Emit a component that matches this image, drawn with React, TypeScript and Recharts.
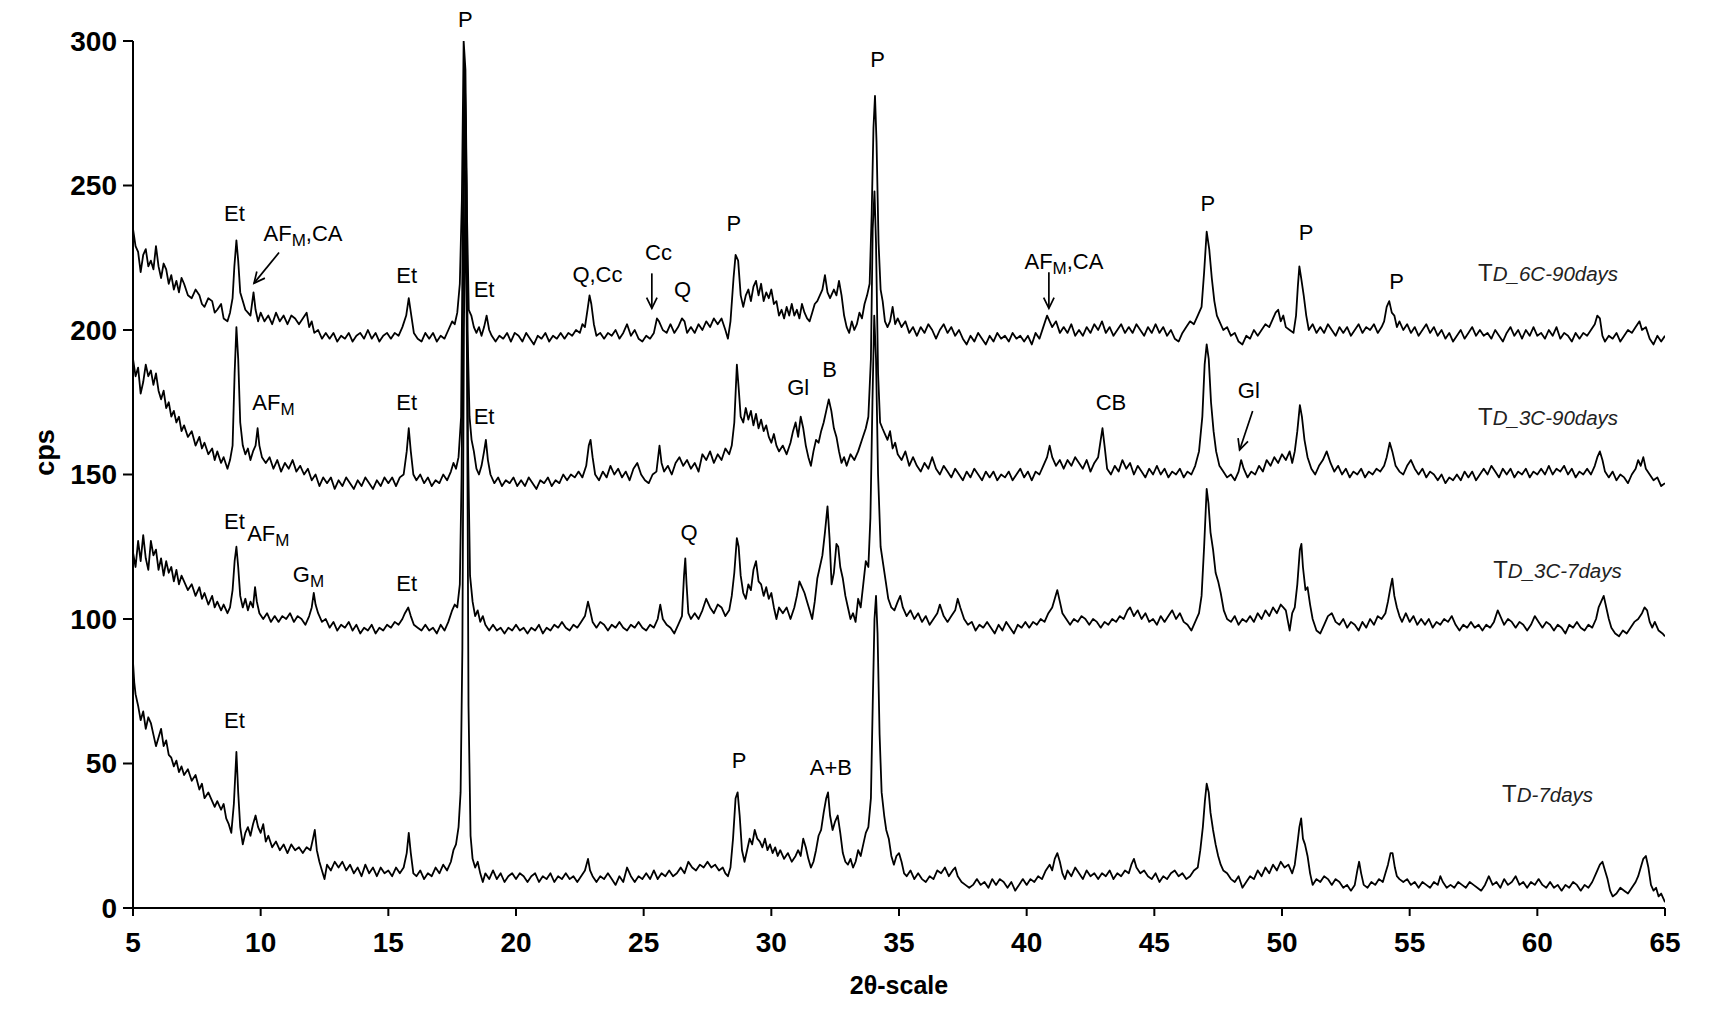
import React from 'react';
import { LineChart, Line, XAxis, YAxis, ReferenceDot, ReferenceLine } from 'recharts';

// 2θ, cps pairs (top to bottom)
const td6c90: [number, number][] = [
  [5,235],[5.1,229],[5.2,227],[5.3,220],[5.4,226],[5.5,228],[5.6,222],[5.7,224],[5.8,221],[5.9,229],[6.0,222],[6.1,218],[6.2,223],[6.3,221],[6.4,216],[6.5,219],[6.6,214],[6.7,217],[6.8,213],[6.9,218],[7.0,216],[7.15,212],[7.3,211],[7.45,214],[7.6,212],[7.7,209],[7.8,208],[7.95,211],[8.1,210],[8.2,206],[8.3,207],[8.45,209],[8.55,204],[8.7,203],[8.8,206],[8.9,211],[8.97,222],[9.05,231],[9.12,224],[9.2,213],[9.3,210],[9.4,207],[9.5,206],[9.6,205],[9.72,213],[9.8,207],[9.9,203],[10.0,206],[10.15,203],[10.3,205],[10.45,202],[10.6,206],[10.75,203],[10.9,205],[11.05,202],[11.2,205],[11.35,204],[11.5,202],[11.65,204],[11.8,206],[11.9,201],[12.0,203],[12.1,199],[12.25,200],[12.4,197],[12.55,199],[12.7,197],[12.85,199],[13.0,196],[13.15,198],[13.3,197],[13.45,199],[13.6,196],[13.75,198],[13.9,199],[14.05,197],[14.2,200],[14.35,197],[14.5,199],[14.65,196],[14.8,198],[14.95,199],[15.1,197],[15.25,199],[15.4,198],[15.55,201],[15.7,205],[15.8,211],[15.9,205],[16.0,199],[16.15,197],[16.3,196],[16.45,199],[16.6,197],[16.75,199],[16.9,196],[17.05,198],[17.2,197],[17.35,200],[17.5,203],[17.6,202],[17.7,206],[17.8,216],[17.88,245],[17.95,300],[18.02,290],[18.08,240],[18.15,207],[18.25,205],[18.35,201],[18.45,199],[18.55,201],[18.65,198],[18.75,201],[18.85,205],[18.95,200],[19.05,198],[19.2,196],[19.35,198],[19.5,197],[19.65,199],[19.8,196],[19.95,199],[20.1,198],[20.25,196],[20.4,199],[20.55,197],[20.7,195],[20.85,198],[21.0,197],[21.15,199],[21.3,196],[21.45,198],[21.6,197],[21.75,199],[21.9,197],[22.05,199],[22.2,198],[22.35,200],[22.5,199],[22.6,202],[22.7,201],[22.8,207],[22.88,212],[22.95,209],[23.05,202],[23.15,198],[23.3,199],[23.45,197],[23.6,199],[23.75,198],[23.9,200],[24.05,197],[24.2,199],[24.35,202],[24.5,198],[24.65,200],[24.8,197],[24.95,196],[25.1,198],[25.25,197],[25.4,199],[25.52,204],[25.6,203],[25.75,200],[25.9,199],[26.05,202],[26.2,199],[26.35,201],[26.5,204],[26.6,203],[26.7,199],[26.85,201],[27.0,199],[27.15,202],[27.3,200],[27.45,203],[27.6,201],[27.75,204],[27.9,202],[28.05,204],[28.2,200],[28.3,197],[28.4,203],[28.52,218],[28.6,226],[28.7,224],[28.8,212],[28.9,208],[29.0,212],[29.1,214],[29.2,210],[29.3,215],[29.4,217],[29.5,212],[29.6,216],[29.7,210],[29.8,213],[29.9,211],[30.0,214],[30.1,209],[30.2,210],[30.3,205],[30.4,207],[30.5,204],[30.6,208],[30.7,205],[30.8,209],[30.9,205],[31.0,207],[31.1,204],[31.2,209],[31.3,206],[31.4,204],[31.5,203],[31.6,206],[31.7,209],[31.8,210],[31.9,212],[32.0,214],[32.1,219],[32.2,213],[32.3,211],[32.45,214],[32.55,212],[32.65,217],[32.75,212],[32.85,205],[32.95,201],[33.05,199],[33.15,203],[33.25,200],[33.35,202],[33.45,206],[33.55,204],[33.65,209],[33.75,212],[33.85,216],[33.93,240],[34.0,270],[34.06,281],[34.12,265],[34.2,230],[34.28,214],[34.36,210],[34.45,203],[34.55,201],[34.65,203],[34.75,208],[34.85,202],[34.95,204],[35.1,201],[35.25,203],[35.4,199],[35.55,201],[35.7,198],[35.85,201],[36.0,199],[36.15,202],[36.3,200],[36.45,197],[36.6,200],[36.75,202],[36.9,199],[37.05,201],[37.2,198],[37.35,200],[37.5,197],[37.65,195],[37.8,198],[37.95,196],[38.1,199],[38.25,197],[38.4,195],[38.55,198],[38.7,196],[38.85,199],[39.0,197],[39.15,198],[39.3,196],[39.45,199],[39.6,197],[39.75,198],[39.9,196],[40.05,198],[40.2,195],[40.35,199],[40.5,197],[40.65,201],[40.8,205],[40.9,203],[41.0,201],[41.15,203],[41.3,199],[41.45,201],[41.6,199],[41.75,202],[41.9,198],[42.05,200],[42.2,198],[42.35,201],[42.5,199],[42.65,202],[42.8,200],[42.95,203],[43.1,199],[43.25,201],[43.4,198],[43.55,200],[43.7,202],[43.85,199],[44.0,201],[44.15,199],[44.3,202],[44.45,200],[44.6,198],[44.75,201],[44.9,199],[45.05,202],[45.2,199],[45.35,201],[45.5,198],[45.65,200],[45.8,197],[45.95,196],[46.1,199],[46.25,201],[46.4,203],[46.55,202],[46.7,205],[46.85,208],[46.95,220],[47.05,234],[47.15,228],[47.25,218],[47.35,210],[47.45,205],[47.55,203],[47.7,200],[47.85,201],[48.0,198],[48.15,199],[48.3,196],[48.45,195],[48.6,198],[48.75,197],[48.9,200],[49.05,198],[49.2,200],[49.35,202],[49.5,201],[49.65,204],[49.75,206],[49.85,207],[49.95,203],[50.05,205],[50.15,201],[50.3,200],[50.45,199],[50.55,205],[50.62,215],[50.68,222],[50.75,218],[50.85,212],[50.95,205],[51.05,200],[51.2,202],[51.35,199],[51.5,201],[51.65,199],[51.8,202],[51.95,200],[52.1,198],[52.25,201],[52.4,199],[52.55,201],[52.7,198],[52.85,200],[53.0,202],[53.15,199],[53.3,201],[53.45,200],[53.6,202],[53.75,199],[53.9,201],[54.0,203],[54.1,208],[54.2,210],[54.3,206],[54.4,205],[54.5,201],[54.6,203],[54.75,200],[54.9,202],[55.05,199],[55.2,201],[55.35,198],[55.5,200],[55.65,202],[55.8,199],[55.95,201],[56.1,198],[56.25,200],[56.4,197],[56.55,199],[56.7,196],[56.85,198],[57.0,200],[57.15,197],[57.3,199],[57.45,201],[57.6,198],[57.75,200],[57.9,198],[58.05,199],[58.2,197],[58.35,200],[58.5,198],[58.65,196],[58.8,199],[58.95,201],[59.1,198],[59.25,200],[59.4,197],[59.55,200],[59.7,198],[59.85,201],[60.0,198],[60.15,199],[60.3,197],[60.45,200],[60.6,198],[60.75,201],[60.9,197],[61.05,199],[61.2,198],[61.35,196],[61.5,199],[61.65,197],[61.8,199],[61.95,198],[62.1,200],[62.25,202],[62.35,205],[62.45,204],[62.55,198],[62.65,196],[62.8,198],[62.95,197],[63.1,199],[63.25,196],[63.4,198],[63.55,200],[63.7,199],[63.85,201],[64.0,203],[64.1,200],[64.25,201],[64.4,197],[64.55,195],[64.7,198],[64.85,196],[65.0,198],
];

const td3c90: [number, number][] = [
  [5,190],[5.1,184],[5.2,187],[5.3,178],[5.4,182],[5.5,188],[5.6,184],[5.7,186],[5.8,181],[5.9,185],[6.0,179],[6.1,176],[6.2,179],[6.3,173],[6.4,175],[6.5,170],[6.6,172],[6.7,168],[6.8,170],[6.9,165],[7.0,167],[7.15,163],[7.3,165],[7.45,160],[7.6,163],[7.7,159],[7.8,161],[7.95,157],[8.1,159],[8.2,155],[8.3,158],[8.45,154],[8.55,156],[8.7,152],[8.8,155],[8.9,160],[8.98,185],[9.05,201],[9.12,190],[9.2,168],[9.3,160],[9.4,157],[9.5,159],[9.6,155],[9.7,158],[9.8,160],[9.88,166],[9.95,160],[10.05,156],[10.2,154],[10.35,156],[10.5,152],[10.65,155],[10.8,151],[10.95,154],[11.1,152],[11.25,155],[11.4,151],[11.55,153],[11.7,150],[11.85,152],[12.0,148],[12.15,150],[12.3,146],[12.45,149],[12.6,147],[12.75,149],[12.9,145],[13.05,148],[13.2,146],[13.35,149],[13.5,147],[13.65,145],[13.8,148],[13.95,146],[14.1,149],[14.25,147],[14.4,145],[14.55,148],[14.7,146],[14.85,149],[15.0,147],[15.15,149],[15.3,146],[15.45,149],[15.6,150],[15.72,158],[15.8,166],[15.88,158],[15.98,150],[16.1,148],[16.25,150],[16.4,147],[16.55,149],[16.7,146],[16.85,148],[17.0,147],[17.15,150],[17.3,148],[17.45,151],[17.55,154],[17.65,152],[17.75,156],[17.85,170],[17.92,240],[17.98,292],[18.04,270],[18.1,200],[18.18,170],[18.26,162],[18.35,158],[18.45,152],[18.55,150],[18.65,153],[18.75,158],[18.82,162],[18.9,155],[19.0,150],[19.15,147],[19.3,149],[19.45,146],[19.6,148],[19.75,147],[19.9,149],[20.05,146],[20.2,148],[20.35,146],[20.5,149],[20.65,147],[20.8,145],[20.95,148],[21.1,147],[21.25,149],[21.4,146],[21.55,148],[21.7,147],[21.85,150],[22.0,148],[22.15,150],[22.3,149],[22.45,151],[22.6,149],[22.75,153],[22.85,160],[22.92,162],[23.0,156],[23.1,150],[23.25,148],[23.4,151],[23.55,149],[23.7,153],[23.85,150],[24.0,152],[24.15,149],[24.3,151],[24.45,148],[24.6,152],[24.75,154],[24.9,150],[25.05,148],[25.2,147],[25.35,150],[25.5,151],[25.62,160],[25.7,154],[25.8,151],[25.95,153],[26.1,150],[26.25,154],[26.4,156],[26.55,153],[26.7,155],[26.85,152],[27.0,154],[27.15,151],[27.3,157],[27.45,155],[27.6,158],[27.75,154],[27.9,157],[28.05,155],[28.2,159],[28.35,157],[28.45,160],[28.55,168],[28.65,188],[28.72,180],[28.8,170],[28.9,168],[29.0,173],[29.1,169],[29.2,172],[29.3,167],[29.4,171],[29.5,166],[29.6,169],[29.7,165],[29.8,167],[29.9,163],[30.0,161],[30.1,164],[30.2,160],[30.3,158],[30.45,160],[30.6,157],[30.75,161],[30.85,165],[30.95,168],[31.05,163],[31.15,170],[31.25,166],[31.35,160],[31.45,156],[31.55,153],[31.65,158],[31.75,162],[31.85,161],[31.95,165],[32.05,168],[32.15,172],[32.25,176],[32.35,172],[32.45,166],[32.55,163],[32.65,158],[32.75,154],[32.85,156],[32.95,153],[33.1,157],[33.25,155],[33.4,158],[33.55,162],[33.7,166],[33.8,170],[33.9,190],[33.97,235],[34.04,248],[34.1,230],[34.18,185],[34.26,168],[34.35,166],[34.45,164],[34.55,162],[34.65,165],[34.75,159],[34.85,161],[34.95,157],[35.1,155],[35.25,158],[35.4,153],[35.55,156],[35.7,153],[35.85,151],[36.0,154],[36.15,152],[36.3,156],[36.45,152],[36.6,150],[36.75,153],[36.9,151],[37.05,149],[37.2,152],[37.35,150],[37.5,148],[37.65,151],[37.8,149],[37.95,152],[38.1,150],[38.25,148],[38.4,151],[38.55,149],[38.7,151],[38.85,148],[39.0,150],[39.15,149],[39.3,151],[39.45,148],[39.6,150],[39.75,152],[39.9,149],[40.05,151],[40.2,148],[40.35,151],[40.5,150],[40.65,153],[40.8,156],[40.9,160],[41.0,156],[41.15,153],[41.3,155],[41.45,152],[41.6,155],[41.75,153],[41.9,156],[42.05,154],[42.2,152],[42.35,155],[42.5,151],[42.65,154],[42.8,156],[42.9,162],[42.97,166],[43.05,160],[43.15,152],[43.3,150],[43.45,153],[43.6,151],[43.75,155],[43.9,152],[44.05,154],[44.2,150],[44.35,153],[44.5,151],[44.65,149],[44.8,152],[44.95,150],[45.1,153],[45.25,150],[45.4,152],[45.55,149],[45.7,151],[45.85,150],[46.0,152],[46.15,149],[46.3,151],[46.45,150],[46.6,153],[46.75,158],[46.88,170],[46.97,188],[47.05,195],[47.13,190],[47.22,175],[47.32,165],[47.42,158],[47.55,153],[47.7,151],[47.85,149],[48.0,150],[48.15,148],[48.3,151],[48.4,155],[48.5,152],[48.65,149],[48.8,151],[48.95,150],[49.1,153],[49.25,151],[49.4,155],[49.55,153],[49.7,156],[49.85,154],[50.0,157],[50.15,155],[50.3,158],[50.4,154],[50.5,158],[50.6,165],[50.7,174],[50.78,170],[50.88,162],[51.0,156],[51.15,152],[51.3,150],[51.45,153],[51.6,155],[51.75,158],[51.9,154],[52.05,151],[52.2,153],[52.35,150],[52.5,152],[52.65,149],[52.8,151],[52.95,150],[53.1,152],[53.25,149],[53.4,151],[53.55,150],[53.7,152],[53.85,151],[54.0,153],[54.1,156],[54.22,161],[54.32,158],[54.45,153],[54.6,151],[54.75,150],[54.9,153],[55.05,155],[55.2,152],[55.35,150],[55.5,152],[55.65,149],[55.8,151],[55.95,150],[56.1,148],[56.25,150],[56.4,147],[56.55,149],[56.7,148],[56.85,150],[57.0,148],[57.15,151],[57.3,149],[57.45,151],[57.6,148],[57.75,150],[57.9,152],[58.05,150],[58.2,153],[58.35,151],[58.5,149],[58.65,152],[58.8,150],[58.95,152],[59.1,149],[59.25,151],[59.4,150],[59.55,152],[59.7,149],[59.85,151],[60.0,150],[60.15,152],[60.3,150],[60.45,153],[60.6,150],[60.75,152],[60.9,151],[61.05,153],[61.2,150],[61.35,152],[61.5,149],[61.65,151],[61.8,150],[61.95,152],[62.1,150],[62.25,153],[62.35,156],[62.45,158],[62.55,155],[62.65,151],[62.8,149],[62.95,151],[63.1,148],[63.25,150],[63.4,149],[63.55,147],[63.7,150],[63.85,152],[63.95,155],[64.05,153],[64.15,156],[64.25,152],[64.4,150],[64.55,148],[64.7,149],[64.85,146],[65.0,147],
];

const td3c7: [number, number][] = [
  [5,123],[5.1,118],[5.2,127],[5.3,120],[5.4,129],[5.5,121],[5.6,117],[5.7,127],[5.8,122],[5.9,124],[6.0,117],[6.1,121],[6.2,115],[6.3,120],[6.4,116],[6.5,118],[6.6,113],[6.7,117],[6.8,112],[6.9,115],[7.0,113],[7.15,110],[7.3,112],[7.45,108],[7.6,111],[7.7,107],[7.8,109],[7.95,105],[8.1,108],[8.2,104],[8.3,106],[8.45,103],[8.55,105],[8.7,102],[8.8,104],[8.9,110],[8.98,120],[9.05,125],[9.12,118],[9.2,108],[9.3,104],[9.4,107],[9.5,103],[9.6,106],[9.7,104],[9.78,111],[9.85,106],[9.95,102],[10.1,100],[10.25,102],[10.4,99],[10.55,101],[10.7,99],[10.85,101],[11.0,100],[11.15,102],[11.3,99],[11.45,101],[11.6,100],[11.75,98],[11.9,101],[12.0,104],[12.08,109],[12.15,105],[12.25,102],[12.4,99],[12.55,100],[12.7,97],[12.85,99],[13.0,96],[13.15,98],[13.3,97],[13.45,99],[13.6,96],[13.75,98],[13.9,95],[14.05,97],[14.2,96],[14.35,98],[14.5,95],[14.65,97],[14.8,96],[14.95,98],[15.1,97],[15.25,99],[15.4,98],[15.55,100],[15.65,102],[15.78,104],[15.88,101],[16.0,98],[16.15,97],[16.3,96],[16.45,98],[16.6,96],[16.75,97],[16.9,95],[17.05,98],[17.2,96],[17.35,99],[17.5,103],[17.6,105],[17.7,104],[17.8,112],[17.87,150],[17.94,230],[18.0,278],[18.06,250],[18.12,160],[18.2,115],[18.3,106],[18.4,101],[18.5,103],[18.6,99],[18.7,101],[18.8,98],[18.95,96],[19.1,98],[19.25,96],[19.4,97],[19.55,95],[19.7,97],[19.85,96],[20.0,98],[20.15,96],[20.3,97],[20.45,95],[20.6,97],[20.75,96],[20.9,98],[21.05,95],[21.2,97],[21.35,96],[21.5,98],[21.65,97],[21.8,99],[21.95,97],[22.1,96],[22.25,98],[22.4,97],[22.55,99],[22.7,101],[22.82,106],[22.9,103],[23.0,99],[23.15,97],[23.3,99],[23.45,98],[23.6,96],[23.75,98],[23.9,97],[24.05,99],[24.2,97],[24.35,96],[24.5,98],[24.65,97],[24.8,99],[24.95,97],[25.1,96],[25.25,98],[25.4,97],[25.55,100],[25.65,105],[25.75,100],[25.9,98],[26.05,97],[26.2,95],[26.35,98],[26.5,101],[26.58,115],[26.63,121],[26.68,112],[26.75,102],[26.85,100],[27.0,102],[27.15,100],[27.3,103],[27.45,107],[27.6,104],[27.75,102],[27.9,105],[28.05,104],[28.2,101],[28.35,103],[28.45,108],[28.55,116],[28.65,128],[28.72,125],[28.8,115],[28.9,109],[29.0,107],[29.1,112],[29.2,110],[29.3,117],[29.4,120],[29.5,113],[29.6,112],[29.7,108],[29.8,111],[29.9,107],[30.0,109],[30.1,104],[30.2,100],[30.3,104],[30.45,102],[30.6,104],[30.75,100],[30.9,104],[31.0,108],[31.1,113],[31.2,111],[31.3,109],[31.4,106],[31.5,103],[31.6,100],[31.7,106],[31.8,114],[31.9,118],[32.0,122],[32.1,130],[32.2,139],[32.28,128],[32.36,112],[32.45,116],[32.55,126],[32.62,125],[32.7,118],[32.8,114],[32.9,108],[33.0,104],[33.1,100],[33.2,102],[33.3,99],[33.4,107],[33.5,104],[33.6,112],[33.7,120],[33.8,118],[33.88,135],[33.96,175],[34.03,205],[34.1,190],[34.18,150],[34.28,125],[34.38,119],[34.48,113],[34.58,107],[34.7,104],[34.82,103],[34.95,106],[35.05,108],[35.15,104],[35.3,101],[35.45,103],[35.6,100],[35.75,102],[35.9,99],[36.05,101],[36.2,98],[36.35,100],[36.5,102],[36.6,105],[36.75,101],[36.9,99],[37.05,101],[37.2,103],[37.3,107],[37.4,104],[37.55,100],[37.7,98],[37.85,99],[38.0,96],[38.15,98],[38.3,97],[38.45,99],[38.6,97],[38.75,95],[38.9,98],[39.05,96],[39.2,99],[39.35,97],[39.5,95],[39.65,98],[39.8,97],[39.95,99],[40.1,97],[40.25,99],[40.4,98],[40.55,100],[40.7,99],[40.85,102],[41.0,104],[41.1,107],[41.2,110],[41.3,106],[41.4,102],[41.55,100],[41.7,98],[41.85,100],[42.0,99],[42.15,101],[42.3,100],[42.45,98],[42.6,100],[42.75,99],[42.9,97],[43.05,99],[43.2,98],[43.35,100],[43.5,99],[43.65,101],[43.8,100],[43.95,103],[44.05,104],[44.2,101],[44.35,103],[44.5,100],[44.65,102],[44.8,99],[44.95,100],[45.1,98],[45.25,101],[45.4,99],[45.55,101],[45.7,103],[45.85,100],[46.0,102],[46.15,99],[46.3,98],[46.45,96],[46.6,99],[46.75,102],[46.85,108],[46.95,125],[47.05,145],[47.12,140],[47.2,130],[47.3,124],[47.4,116],[47.5,113],[47.6,109],[47.72,103],[47.85,100],[48.0,99],[48.15,101],[48.3,98],[48.45,100],[48.6,99],[48.75,101],[48.9,99],[49.05,102],[49.2,100],[49.35,103],[49.5,101],[49.65,104],[49.8,102],[49.95,105],[50.05,104],[50.15,103],[50.3,96],[50.4,102],[50.5,104],[50.6,112],[50.7,124],[50.76,126],[50.82,118],[50.92,110],[51.0,111],[51.1,105],[51.2,100],[51.35,96],[51.5,95],[51.65,98],[51.8,101],[51.95,102],[52.1,99],[52.25,98],[52.4,100],[52.55,97],[52.7,99],[52.85,98],[53.0,96],[53.15,99],[53.3,97],[53.45,100],[53.6,98],[53.75,101],[53.9,100],[54.05,102],[54.15,106],[54.25,111],[54.32,114],[54.4,108],[54.5,104],[54.6,101],[54.7,99],[54.85,102],[55.0,99],[55.15,101],[55.3,98],[55.45,100],[55.6,98],[55.75,100],[55.9,97],[56.05,99],[56.2,98],[56.35,100],[56.5,99],[56.65,101],[56.8,98],[56.95,96],[57.1,98],[57.25,97],[57.4,99],[57.55,97],[57.7,98],[57.85,96],[58.0,98],[58.15,97],[58.3,99],[58.45,103],[58.55,101],[58.7,98],[58.85,100],[59.0,99],[59.15,97],[59.3,99],[59.45,98],[59.6,96],[59.75,98],[59.9,101],[60.05,99],[60.2,97],[60.35,99],[60.5,98],[60.65,96],[60.8,98],[60.95,97],[61.1,95],[61.25,98],[61.4,97],[61.55,99],[61.7,97],[61.85,96],[62.0,98],[62.15,97],[62.3,100],[62.4,104],[62.5,106],[62.6,108],[62.7,104],[62.8,100],[62.9,97],[63.05,95],[63.2,94],[63.35,96],[63.5,95],[63.65,97],[63.8,99],[63.95,100],[64.1,102],[64.2,104],[64.3,103],[64.4,99],[64.5,97],[64.6,99],[64.75,96],[64.9,95],[65.0,94],
];

const td7: [number, number][] = [
  [5,85],[5.05,78],[5.1,74],[5.2,70],[5.3,65],[5.4,68],[5.5,62],[5.6,66],[5.7,64],[5.8,60],[5.9,56],[6.0,59],[6.1,62],[6.2,56],[6.3,58],[6.4,53],[6.5,52],[6.6,49],[6.7,51],[6.8,47],[6.9,49],[7.0,46],[7.15,48],[7.3,44],[7.45,46],[7.6,41],[7.7,43],[7.8,38],[7.95,40],[8.1,37],[8.2,35],[8.3,37],[8.45,34],[8.55,36],[8.65,31],[8.75,29],[8.85,26],[8.95,36],[9.05,54],[9.12,40],[9.2,28],[9.3,22],[9.4,26],[9.5,28],[9.6,25],[9.7,29],[9.8,32],[9.9,28],[10.0,26],[10.1,29],[10.2,23],[10.3,25],[10.45,21],[10.6,23],[10.75,20],[10.9,22],[11.05,19],[11.2,22],[11.35,20],[11.5,21],[11.65,19],[11.8,21],[11.95,20],[12.05,24],[12.12,27],[12.2,20],[12.3,16],[12.4,13],[12.5,10],[12.6,15],[12.75,13],[12.9,16],[13.05,14],[13.2,16],[13.35,13],[13.5,15],[13.65,12],[13.8,14],[13.95,11],[14.1,15],[14.25,12],[14.4,14],[14.55,11],[14.7,14],[14.85,12],[15.0,13],[15.15,11],[15.3,14],[15.45,12],[15.6,14],[15.72,19],[15.8,26],[15.88,19],[15.98,12],[16.1,11],[16.25,13],[16.4,10],[16.55,12],[16.7,11],[16.85,14],[17.0,12],[17.15,15],[17.3,13],[17.45,16],[17.55,20],[17.65,22],[17.75,28],[17.83,40],[17.9,90],[17.96,200],[18.02,255],[18.08,190],[18.14,70],[18.22,25],[18.3,17],[18.4,14],[18.5,16],[18.6,12],[18.7,9],[18.8,12],[18.95,10],[19.1,13],[19.25,10],[19.4,12],[19.55,9],[19.7,11],[19.85,12],[20.0,10],[20.15,12],[20.3,11],[20.45,9],[20.6,11],[20.75,12],[20.9,9],[21.05,11],[21.2,10],[21.35,12],[21.5,9],[21.65,11],[21.8,10],[21.95,12],[22.1,10],[22.25,11],[22.4,9],[22.55,11],[22.7,13],[22.82,17],[22.9,13],[23.0,11],[23.15,9],[23.3,11],[23.45,10],[23.6,12],[23.75,10],[23.9,8],[24.05,11],[24.2,9],[24.35,14],[24.5,11],[24.65,9],[24.8,11],[24.95,10],[25.1,12],[25.25,10],[25.4,13],[25.55,10],[25.7,12],[25.85,11],[26.0,13],[26.15,11],[26.3,12],[26.45,14],[26.6,12],[26.75,16],[26.9,14],[27.05,13],[27.2,15],[27.35,14],[27.5,16],[27.65,14],[27.8,15],[27.95,13],[28.1,14],[28.2,12],[28.3,11],[28.4,14],[28.5,24],[28.6,38],[28.68,40],[28.76,32],[28.85,20],[28.95,16],[29.05,20],[29.15,24],[29.25,22],[29.35,27],[29.45,24],[29.55,23],[29.65,21],[29.75,24],[29.85,20],[29.95,22],[30.05,19],[30.15,21],[30.25,18],[30.35,20],[30.5,17],[30.65,19],[30.8,16],[30.95,18],[31.05,20],[31.15,18],[31.25,24],[31.35,21],[31.45,17],[31.55,14],[31.65,16],[31.75,20],[31.85,25],[31.95,27],[32.05,33],[32.15,38],[32.22,40],[32.3,32],[32.4,27],[32.5,30],[32.6,32],[32.7,26],[32.8,19],[32.9,16],[33.0,15],[33.1,17],[33.2,14],[33.3,16],[33.4,20],[33.5,18],[33.6,22],[33.7,26],[33.8,28],[33.9,38],[33.97,70],[34.04,100],[34.1,108],[34.16,95],[34.24,60],[34.32,40],[34.42,32],[34.5,27],[34.6,24],[34.7,18],[34.8,15],[34.9,18],[35.0,19],[35.1,16],[35.2,12],[35.3,11],[35.45,13],[35.6,10],[35.75,12],[35.9,10],[36.05,9],[36.2,11],[36.35,10],[36.5,13],[36.65,12],[36.8,14],[36.95,11],[37.1,13],[37.2,14],[37.3,11],[37.45,9],[37.6,8],[37.75,7],[37.9,8],[38.05,10],[38.2,8],[38.35,9],[38.5,7],[38.65,10],[38.8,8],[38.95,10],[39.1,9],[39.25,7],[39.4,9],[39.55,6],[39.7,8],[39.85,10],[40.0,8],[40.15,10],[40.3,9],[40.45,11],[40.6,10],[40.75,13],[40.9,15],[41.0,13],[41.1,17],[41.2,19],[41.3,16],[41.4,12],[41.5,10],[41.6,13],[41.75,11],[41.9,14],[42.05,12],[42.2,10],[42.35,13],[42.5,11],[42.65,12],[42.8,10],[42.95,12],[43.1,11],[43.25,13],[43.4,10],[43.55,12],[43.7,11],[43.85,13],[44.0,12],[44.1,15],[44.2,17],[44.3,14],[44.45,12],[44.6,13],[44.75,11],[44.9,10],[45.05,12],[45.2,9],[45.35,11],[45.5,10],[45.65,12],[45.8,13],[45.95,11],[46.1,12],[46.25,10],[46.4,11],[46.55,13],[46.7,14],[46.8,20],[46.9,28],[46.98,37],[47.05,43],[47.13,40],[47.2,33],[47.3,27],[47.4,22],[47.5,18],[47.6,15],[47.7,13],[47.85,12],[48.0,10],[48.15,9],[48.3,11],[48.45,7],[48.6,9],[48.75,11],[48.9,10],[49.05,13],[49.2,11],[49.35,14],[49.5,12],[49.65,15],[49.8,13],[49.95,16],[50.1,14],[50.25,15],[50.4,12],[50.5,15],[50.6,22],[50.68,28],[50.75,31],[50.82,24],[50.9,22],[51.0,18],[51.1,12],[51.2,8],[51.35,10],[51.5,9],[51.65,11],[51.8,10],[51.95,8],[52.1,10],[52.25,9],[52.4,7],[52.55,8],[52.7,6],[52.85,8],[52.95,13],[53.02,16],[53.1,12],[53.2,8],[53.35,7],[53.5,9],[53.65,8],[53.8,10],[53.95,9],[54.05,12],[54.15,15],[54.25,19],[54.33,19],[54.42,14],[54.5,11],[54.6,10],[54.75,9],[54.9,10],[55.05,8],[55.2,9],[55.35,7],[55.5,9],[55.65,8],[55.8,7],[55.95,9],[56.1,8],[56.2,11],[56.3,9],[56.45,7],[56.6,8],[56.75,7],[56.9,9],[57.05,8],[57.2,7],[57.35,9],[57.5,8],[57.65,7],[57.8,6],[57.95,8],[58.1,11],[58.25,8],[58.4,9],[58.55,7],[58.7,10],[58.85,8],[59.0,9],[59.15,11],[59.3,8],[59.45,9],[59.6,7],[59.75,9],[59.9,8],[60.05,10],[60.2,8],[60.35,7],[60.5,9],[60.65,7],[60.8,8],[60.95,6],[61.1,8],[61.25,7],[61.4,9],[61.55,8],[61.7,6],[61.85,8],[62.0,7],[62.15,9],[62.3,12],[62.45,15],[62.55,16],[62.65,13],[62.75,10],[62.85,6],[62.95,4],[63.1,5],[63.25,7],[63.4,6],[63.55,5],[63.7,7],[63.85,9],[63.95,11],[64.05,14],[64.15,17],[64.25,18],[64.35,14],[64.45,8],[64.55,6],[64.65,7],[64.75,4],[64.85,5],[65.0,2],
];

const xTicks = [5, 10, 15, 20, 25, 30, 35, 40, 45, 50, 55, 60, 65];
const yTicks = [0, 50, 100, 150, 200, 250, 300];

// phase labels: centre position in data units, main text, subscript, trailing text
const phaseLabels = [
  { x: 18.02, y: 307.5, text: 'P' },
  { x: 8.97, y: 240.4, text: 'Et' },
  { x: 11.66, y: 233.6, text: 'AF', sub: 'M', tail: ',CA' },
  { x: 15.72, y: 218.9, text: 'Et' },
  { x: 18.75, y: 214, text: 'Et' },
  { x: 23.19, y: 219.2, text: 'Q,Cc' },
  { x: 25.58, y: 226.8, text: 'Cc' },
  { x: 26.52, y: 214.3, text: 'Q' },
  { x: 28.53, y: 237, text: 'P' },
  { x: 34.16, y: 293.6, text: 'P' },
  { x: 41.46, y: 223.8, text: 'AF', sub: 'M', tail: ',CA' },
  { x: 47.1, y: 243.8, text: 'P' },
  { x: 50.94, y: 234, text: 'P' },
  { x: 54.49, y: 217, text: 'P' },
  { x: 10.5, y: 175, text: 'AF', sub: 'M' },
  { x: 15.72, y: 175, text: 'Et' },
  { x: 18.75, y: 170.2, text: 'Et' },
  { x: 31.05, y: 180.4, text: 'Gl' },
  { x: 32.28, y: 186.4, text: 'B' },
  { x: 43.3, y: 175, text: 'CB' },
  { x: 48.7, y: 179.2, text: 'Gl' },
  { x: 8.97, y: 134, text: 'Et' },
  { x: 10.3, y: 129.8, text: 'AF', sub: 'M' },
  { x: 11.87, y: 115.5, text: 'G', sub: 'M' },
  { x: 15.72, y: 112.5, text: 'Et' },
  { x: 26.78, y: 130.2, text: 'Q' },
  { x: 8.97, y: 64.9, text: 'Et' },
  { x: 28.74, y: 51.3, text: 'P' },
  { x: 32.33, y: 48.7, text: 'A+B' },
];

// sample names: left start of text, vertical centre
const sampleLabels = [
  { x: 57.68, y: 219, rest: 'D_6C-90days' },
  { x: 57.68, y: 169.2, rest: 'D_3C-90days' },
  { x: 58.27, y: 116.3, rest: 'D_3C-7days' },
  { x: 58.62, y: 38.7, rest: 'D-7days' },
];

const arrows = [
  { from: { x: 10.72, y: 226.8 }, to: { x: 9.74, y: 216.2 } },
  { from: { x: 25.32, y: 219.6 }, to: { x: 25.32, y: 207.5 } },
  { from: { x: 40.87, y: 220 }, to: { x: 40.87, y: 207.5 } },
  { from: { x: 48.85, y: 172 }, to: { x: 48.34, y: 158.5 } },
];

const FONT = '"Liberation Sans", Arial, Helvetica, sans-serif';

const toRows = (pts: [number, number][]) => pts.map(([x, y]) => ({ x, y }));
const series = [td6c90, td3c90, td3c7, td7].map(toRows);

const ArrowShape = (props: any) => {
  const { x1, y1, x2, y2 } = props;
  const ang = Math.atan2(y2 - y1, x2 - x1);
  const len = 12;
  const spread = 0.45;
  const a = [x2 - len * Math.cos(ang - spread), y2 - len * Math.sin(ang - spread)];
  const b = [x2 - len * Math.cos(ang + spread), y2 - len * Math.sin(ang + spread)];
  return (
    <g stroke="#000" strokeWidth={1.7} fill="none">
      <line x1={x1} y1={y1} x2={x2} y2={y2} />
      <polyline points={`${a[0]},${a[1]} ${x2},${y2} ${b[0]},${b[1]}`} />
    </g>
  );
};

const phaseShape = (l: { text: string; sub?: string; tail?: string }) => (p: any) => (
  <text x={p.cx} y={p.cy} dy="0.36em" textAnchor="middle" fontFamily={FONT} fontSize={22} fill="#000">
    {l.text}
    {l.sub && <tspan dy={5} fontSize={17}>{l.sub}</tspan>}
    {l.tail && <tspan dy={-5}>{l.tail}</tspan>}
  </text>
);

const sampleShape = (rest: string) => (p: any) => (
  <text x={p.cx} y={p.cy} dy="0.36em" textAnchor="start" fontFamily={FONT} fill="#222">
    <tspan fontSize={24}>T</tspan>
    <tspan fontSize={20.5} fontStyle="italic">{rest}</tspan>
  </text>
);

export default function App() {
  return (
    <div style={{ position: 'absolute', left: 0, top: 0, width: 1710, height: 1009, background: '#fff' }}>
      <LineChart width={1710} height={1009} margin={{ top: 41, right: 45, bottom: 11, left: 13 }}>
        <XAxis
          type="number"
          dataKey="x"
          domain={[5, 65]}
          ticks={xTicks}
          allowDataOverflow
          height={90}
          stroke="#000"
          strokeWidth={2}
          tickSize={8}
          tickMargin={16}
          tick={{ fill: '#000', fontSize: 28, fontWeight: 700, fontFamily: FONT }}
          label={{ value: '2θ-scale', position: 'insideBottom', offset: 4, fill: '#000', fontSize: 25, fontWeight: 700, fontFamily: FONT }}
        />
        <YAxis
          type="number"
          domain={[0, 300]}
          ticks={yTicks}
          allowDataOverflow
          width={120}
          stroke="#000"
          strokeWidth={2}
          tickSize={10}
          tickMargin={6}
          tick={{ fill: '#000', fontSize: 28, fontWeight: 700, fontFamily: FONT }}
          label={{
            content: (p: any) => {
              const vb = p.viewBox;
              const cx = vb.x + 31;
              const cy = vb.y + vb.height / 2 - 22;
              return (
                <text x={cx} y={cy} dy="0.36em" textAnchor="middle" transform={`rotate(-90 ${cx} ${cy})`} fontFamily={FONT} fontSize={27} fontWeight={700} fill="#000">
                  cps
                </text>
              );
            },
          }}
        />
        {series.map((d, i) => (
          <Line key={i} data={d} dataKey="y" type="linear" dot={false} activeDot={false} stroke="#000" strokeWidth={1.8} strokeLinejoin="round" isAnimationActive={false} />
        ))}
        {arrows.map((a, i) => (
          <ReferenceLine key={'a' + i} segment={[a.from, a.to]} ifOverflow="visible" shape={ArrowShape} />
        ))}
        {phaseLabels.map((l, i) => (
          <ReferenceDot key={'p' + i} x={l.x} y={l.y} r={0} ifOverflow="visible" shape={phaseShape(l)} />
        ))}
        {sampleLabels.map((l, i) => (
          <ReferenceDot key={'s' + i} x={l.x} y={l.y} r={0} ifOverflow="visible" shape={sampleShape(l.rest)} />
        ))}
      </LineChart>
    </div>
  );
}
